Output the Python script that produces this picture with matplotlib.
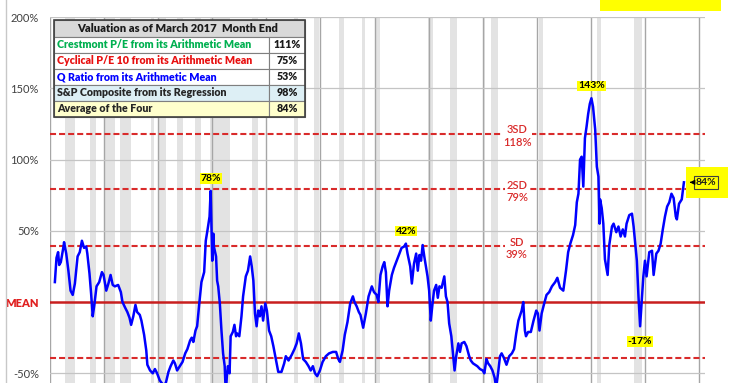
import matplotlib
matplotlib.use("Agg")
import matplotlib.pyplot as plt
from matplotlib.patches import Rectangle

plt.rcParams['font.family'] = ['Lato', 'DejaVu Sans']

# average of the four valuation indicators, % above/below mean
years = [1900.9, 1901.2, 1901.5, 1901.7, 1902.0, 1902.5, 1902.6, 1903.0, 1903.4, 1903.8,
         1904.2, 1904.6, 1905.1, 1905.5, 1905.9, 1906.3, 1906.7, 1906.9, 1907.3, 1907.6,
         1907.9, 1908.2, 1908.6, 1909.1, 1909.6, 1909.9, 1910.4, 1910.8, 1911.2, 1911.6,
         1912.0, 1912.6, 1913.1, 1913.4, 1913.9, 1914.3, 1914.7, 1915.0, 1915.4, 1915.8,
         1916.1, 1916.6, 1916.9, 1917.4, 1917.8, 1918.0, 1918.5, 1919.0, 1919.4, 1919.8,
         1920.3, 1920.9, 1921.4, 1921.9, 1922.3, 1922.8, 1923.1, 1923.5, 1924.0, 1924.5,
         1925.0, 1925.4, 1925.9, 1926.2, 1926.5, 1926.9, 1927.2, 1927.6, 1928.0, 1928.5,
         1928.8, 1929.1, 1929.5, 1929.7, 1930.0, 1930.2, 1930.3, 1930.7, 1930.9, 1931.1,
         1931.4, 1931.7, 1932.0, 1932.3, 1932.5, 1932.7, 1932.9, 1933.2, 1933.4, 1933.8,
         1934.1, 1934.4, 1934.6, 1935.0, 1935.4, 1935.7, 1936.2, 1936.6, 1937.0, 1937.3,
         1937.6, 1937.9, 1938.2, 1938.5, 1938.8, 1939.1, 1939.4, 1939.8, 1940.1, 1940.5,
         1940.9, 1941.3, 1941.8, 1942.2, 1942.8, 1943.3, 1943.6, 1944.1, 1944.7, 1945.2,
         1945.6, 1946.0, 1946.4, 1946.8, 1947.3, 1947.8, 1948.2, 1948.6, 1949.0, 1949.4,
         1949.9, 1950.4, 1951.0, 1951.6, 1952.3, 1952.9, 1953.3, 1953.6, 1954.1, 1954.5,
         1955.0, 1955.5, 1956.0, 1956.3, 1956.7, 1957.1, 1957.4, 1957.9, 1958.4, 1958.9,
         1959.5, 1959.9, 1960.4, 1960.7, 1961.1, 1961.5, 1961.8, 1962.1, 1962.4, 1962.7,
         1963.2, 1963.6, 1964.1, 1964.6, 1965.0, 1965.5, 1965.8, 1966.1, 1966.6, 1966.9,
         1967.3, 1967.7, 1968.0, 1968.3, 1968.6, 1968.9, 1969.2, 1969.5, 1969.8, 1970.1,
         1970.4, 1970.7, 1971.0, 1971.4, 1971.7, 1972.0, 1972.4, 1972.9, 1973.2, 1973.5,
         1973.8, 1974.2, 1974.5, 1974.8, 1975.1, 1975.5, 1975.8, 1976.1, 1976.6, 1977.0,
         1977.5, 1977.8, 1978.2, 1978.6, 1979.0, 1979.5, 1980.0, 1980.3, 1980.7, 1981.0,
         1981.4, 1981.8, 1982.2, 1982.5, 1982.9, 1983.2, 1983.5, 1983.9, 1984.4, 1984.9,
         1985.4, 1985.8, 1986.2, 1986.6, 1987.2, 1987.5, 1987.8, 1988.0, 1988.4, 1988.9,
         1989.4, 1989.9, 1990.2, 1990.5, 1990.9, 1991.3, 1991.8, 1992.3, 1992.8, 1993.4,
         1993.8, 1994.3, 1994.9, 1995.4, 1995.8, 1996.2, 1996.7, 1997.1, 1997.4, 1997.7,
         1998.0, 1998.3, 1998.6, 1998.9, 1999.2, 1999.5, 1999.8, 2000.1, 2000.4, 2000.8,
         2001.1, 2001.4, 2001.6, 2001.7, 2002.0, 2002.3, 2002.6, 2003.1, 2003.4, 2003.9,
         2004.2, 2004.7, 2005.1, 2005.5, 2005.9, 2006.3, 2006.6, 2007.1, 2007.6, 2007.9,
         2008.2, 2008.5, 2008.8, 2009.1, 2009.4, 2009.7, 2010.0, 2010.3, 2010.8, 2011.3,
         2011.6, 2012.1, 2012.5, 2012.9, 2013.3, 2013.7, 2014.1, 2014.5, 2014.9, 2015.3,
         2015.7, 2015.9, 2016.3, 2016.8, 2017.2]
values = [14, 31, 35, 26, 28, 39, 42, 34, 22, 8,
          5, 13, 32, 35, 43, 38, 39, 34, 20, 6,
          -10, -2, 11, 14, 21, 19, 8, 13, 19, 12,
          11, 12, 7, 0, -4, -7, -11, -16, -10, -2,
          -7, -9, -13, -23, -34, -44, -48, -50, -47, -50,
          -55, -58, -57, -49, -45, -41, -43, -48, -45, -42,
          -36, -33, -27, -25, -28, -20, -17, -1, 14, 21,
          43, 50, 60, 78, 29, 48, 39, 32, 15, 11,
          -1, -20, -36, -45, -64, -52, -45, -50, -24, -21,
          -16, -24, -22, -24, -10, 4, 18, 22, 32, 25,
          15, -8, -17, -6, -10, -3, -13, -1, -6, -20,
          -24, -31, -41, -49, -49, -43, -38, -41, -37, -33,
          -29, -22, -29, -40, -42, -45, -48, -45, -50, -52,
          -48, -42, -38, -36, -35, -35, -40, -42, -34, -23,
          -14, -1, 4, 0, -3, -7, -9, -18, -8, 4,
          11, 7, 5, 0, 19, 25, 28, 21, -3, 8,
          19, 24, 29, 34, 38, 39, 41, 34, 25, 13,
          27, 34, 22, 33, 29, 40, 32, 25, 18, 8,
          -13, -2, 8, 12, 3, 11, 10, 18, 4, 0,
          -15, -24, -36, -48, -38, -29, -35, -29, -28, -31,
          -38, -41, -43, -44, -45, -47, -48, -50, -40, -43,
          -45, -48, -53, -60, -48, -38, -36, -39, -44, -38,
          -36, -33, -22, -13, -6, 0, -20, -24, -21, -21,
          -13, -6, -8, -20, -8, -2, 5, 7, 11, 14,
          17, 10, 8, 22, 35, 41, 47, 54, 70, 76,
          100, 102, 81, 115, 123, 132, 139, 143, 137, 121,
          95, 88, 55, 72, 66, 55, 30, 19, 40, 53,
          55, 49, 53, 46, 51, 46, 55, 61, 62, 53,
          41, 29, 4, -17, 1, 18, 29, 18, 35, 36,
          19, 34, 36, 41, 51, 60, 67, 70, 76, 73,
          60, 58, 69, 72, 84]

# NBER recessions (start, end)
rec_start = [1902.7, 1907.4, 1910.0, 1913.0, 1918.6, 1920.0, 1923.4, 1926.8, 1929.6, 1937.4,
             1945.1, 1948.9, 1953.5, 1957.6, 1960.3, 1969.9, 1973.9, 1980.0, 1981.5, 1990.5,
             2001.2, 2007.9]
rec_end = [1904.6, 1908.5, 1912.0, 1914.9, 1919.2, 1921.5, 1924.5, 1927.9, 1933.2, 1938.5,
           1945.8, 1949.8, 1954.4, 1958.3, 1961.1, 1970.9, 1975.2, 1980.5, 1982.9, 1991.2,
           2001.9, 2009.5]

# standard deviation bands
sd_levels = [118, 79, 39, -39]
sd_names = ['3SD', '2SD', 'SD', '']

# labelled peaks and troughs
peak_years = [1929.7, 1965.8, 2000.1, 2009.1]
peak_values = [78, 41, 143, -17]
peak_texts = ['78%', '42%', '143%', '-17%']

# valuation table
table_title = 'Valuation as of March 2017  Month End'
table_labels = ['Crestmont P/E from its Arithmetic Mean',
                'Cyclical P/E 10 from its Arithmetic Mean',
                'Q Ratio from its Arithmetic Mean',
                'S&P Composite from its Regression',
                'Average of the Four']
table_values = ['111%', '75%', '53%', '98%', '84%']
table_colors = ['#00B050', '#E81010', '#0000FF', '#262626', '#262626']
table_bg = ['white', 'white', 'white', '#DDEFF5', '#FFFFCC']

W, H = 730, 383
fig = plt.figure(figsize=(W / 100, H / 100), dpi=100)
ax = fig.add_axes([50 / W, 0, 655 / W, (H - 17) / H])

ax.set_xlim(1900, 2021.1)
ax.set_ylim(-56.8, 200)

# recession shading
for s, e in zip(rec_start, rec_end):
    ax.axvspan(s, e, color='#E3E3E3', lw=0, zorder=0)

# grid
for yr in range(1900, 2021, 10):
    ax.axvline(yr, color='#A6A6A6', lw=1.0, zorder=1)
for lv in [-50, 50, 100, 150, 200]:
    ax.axhline(lv, color='#C4C4C4', lw=0.9, zorder=1)

# mean and sd lines
ax.axhline(0, color='#C81E1E', lw=1.8, zorder=2)
for lv, nm in zip(sd_levels, sd_names):
    ax.axhline(lv, color='#D92B2B', lw=1.5, ls=(0, (2.9, 1.45)), zorder=2)
    if nm:
        ax.text(1986.35, lv - 1.5, nm + '\n' + str(lv) + '%', ha='center', va='center',
                color='#D92B2B', fontsize=8, fontweight='semibold', linespacing=1.15,
                zorder=3, bbox=dict(facecolor='white', edgecolor='none', pad=0.6))

ax.plot(years, values, color='#0000FF', lw=1.8, zorder=5)

for px, pv, pt in zip(peak_years, peak_values, peak_texts):
    off = -11 if pv < 0 else 9
    ax.annotate(pt, (px, pv), xytext=(0, off), textcoords='offset points',
                ha='center', va='center', fontsize=7.5, fontweight='bold', zorder=6,
                bbox=dict(facecolor='#FFFF00', edgecolor='none', pad=0.5))

ax.set_xticks([])
ax.set_yticks([-50, 0, 50, 100, 150, 200])
ax.set_yticklabels(['-50%', 'MEAN', '50%', '100%', '150%', '200%'])
ax.tick_params(axis='y', length=0, pad=8, labelsize=8, labelcolor='#404040')
mean_lbl = ax.get_yticklabels()[1]
mean_lbl.set_color('#E02020')
mean_lbl.set_fontweight('heavy')
mean_lbl.set_fontsize(8)
for sp in ax.spines.values():
    sp.set_visible(False)

# overlay in pixel coordinates for the table and end label
ov = fig.add_axes([0, 0, 1, 1], zorder=10)
ov.set_xlim(0, W)
ov.set_ylim(H, 0)
ov.axis('off')

ov.plot([6, 6], [0, H], color='#C8C8C8', lw=1)
ov.add_patch(Rectangle((600, 0), 121, 11, facecolor='#FFFF00', edgecolor='none'))

tx0, tx1, tdiv = 54, 305, 269
ty0, row_h = 20, 16
ov.add_patch(Rectangle((tx0, ty0), tx1 - tx0, 17, facecolor='#D9D9D9', edgecolor='#7F7F7F', lw=0.8))
ov.text((tx0 + tx1) / 2 - 2, ty0 + 8.5, table_title, ha='center', va='center',
        fontsize=8, fontweight='heavy', color='#1A1A1A')
for i, (lab, val, col, bg) in enumerate(zip(table_labels, table_values, table_colors, table_bg)):
    y = ty0 + 17 + i * row_h
    ov.add_patch(Rectangle((tx0, y), tdiv - tx0, row_h, facecolor=bg, edgecolor='#7F7F7F', lw=0.8))
    ov.add_patch(Rectangle((tdiv, y), tx1 - tdiv, row_h, facecolor=bg, edgecolor='#7F7F7F', lw=0.8))
    ov.text(tx0 + 3, y + row_h / 2, lab, ha='left', va='center', fontsize=7.7,
            fontweight='heavy', color=col)
    ov.text((tdiv + tx1) / 2, y + row_h / 2, val, ha='center', va='center', fontsize=7.7,
            fontweight='heavy', color='#1A1A1A')
ov.add_patch(Rectangle((tx0, ty0), tx1 - tx0, 17 + 5 * row_h, facecolor='none',
                       edgecolor='#404040', lw=1.2))

# end value label
ex, ey = ax.transData.transform((years[-1], values[-1]))
ey = H - ey
ov.add_patch(Rectangle((ex + 2, ey - 15), 42, 31, facecolor='#FFFF00', edgecolor='none'))
ov.text(ex + 22, ey, str(values[-1]) + '%', ha='center', va='center', fontsize=7.5,
        fontweight='bold', color='#1A1A1A',
        bbox=dict(facecolor='#FFFF00', edgecolor='#404040', lw=0.8, pad=1.5))
ov.annotate('', xy=(ex + 3, ey), xytext=(ex + 10, ey),
            arrowprops=dict(arrowstyle='-|>', color='black', lw=0.8, mutation_scale=7))

fig.savefig('out.png', dpi=100)
